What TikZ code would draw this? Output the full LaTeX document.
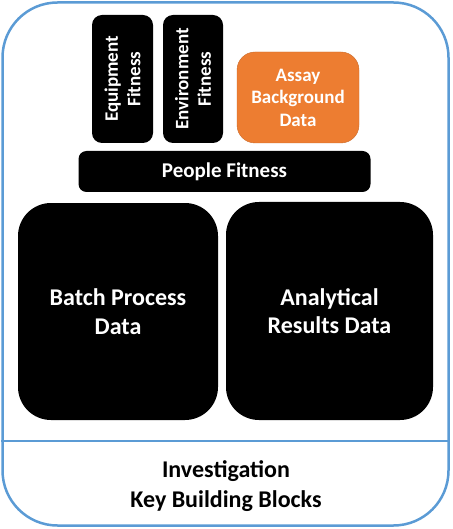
\documentclass[tikz,border=0pt]{standalone}
\usepackage{fontspec}
\setmainfont{Carlito}
\usetikzlibrary{positioning}
\definecolor{frameblue}{RGB}{91,155,213}
\definecolor{assayorange}{RGB}{237,125,49}

\begin{document}
\begin{tikzpicture}[x=1pt,y=-1pt,
    block/.style={fill=black, text=white, align=center, inner sep=0pt},
    smallfont/.style={font=\fontsize{19}{22.5}\selectfont\bfseries},
    midfont/.style={font=\fontsize{21}{25}\selectfont\bfseries},
    bigfont/.style={font=\fontsize{24}{28.5}\selectfont\bfseries}]
\useasboundingbox (0,0) rectangle (452,529);
% Rahmen
\node[draw=frameblue, line width=2.5pt, rounded corners=55pt, minimum width=446pt, minimum height=523pt, inner sep=0pt] (frame) at (225.5,264) {};
\coordinate (divider) at (225.5,441);
\draw[frameblue, line width=2.5pt] (divider -| frame.west) -- (divider -| frame.east);
\node[align=center, font=\fontsize{24}{30}\selectfont\bfseries] (title) at (226,486) {Investigation\\Key Building Blocks};

% Obere Bausteine
\node[block, smallfont, rotate=90, rounded corners=10pt, minimum width=128pt, minimum height=61pt] (equipment) at (122.5,79) {Equipment\\Fitness};
\node[block, smallfont, rotate=90, rounded corners=10pt, minimum width=128pt, minimum height=60pt] (environment) at (193,79) {Environment\\Fitness};
\node[block, smallfont, fill=assayorange, draw=assayorange!85!black, rounded corners=18pt, minimum width=122pt, minimum height=91pt] (assay) at (298,97.5) {Assay\\Background\\Data};
\node[block, midfont, rounded corners=8pt, minimum width=292pt, minimum height=41pt] (people) at (224.5,171.5) {People Fitness};

% Untere Bausteine
\node[block, bigfont, rounded corners=33pt, minimum width=200pt, minimum height=217pt] (batch) at (118,311.5) {Batch Process\\Data};
\node[block, bigfont, rounded corners=33pt, minimum width=207pt, minimum height=218pt] (analytical) at (329.5,311) {Analytical\\Results Data};
\end{tikzpicture}
\end{document}
